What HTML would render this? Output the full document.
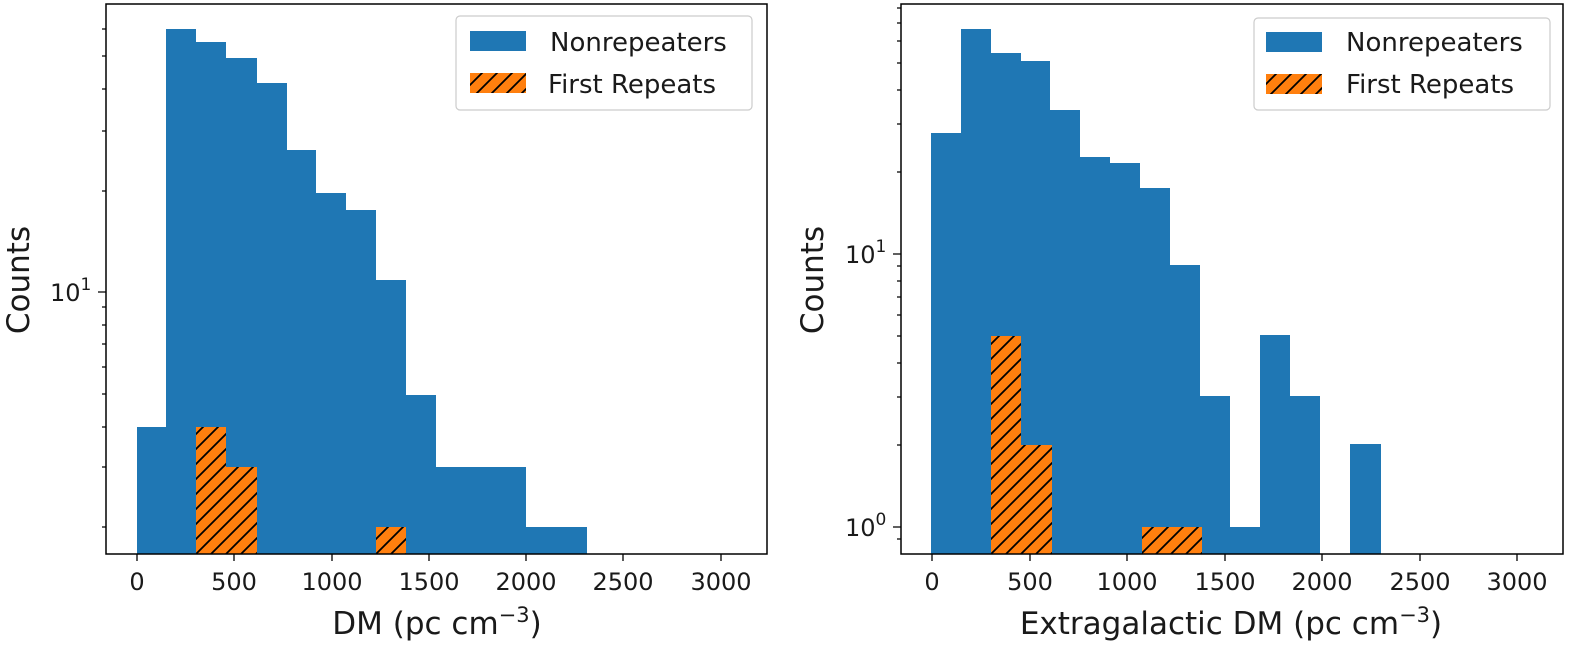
<!DOCTYPE html>
<html><head><meta charset="utf-8"><style>
html,body{margin:0;padding:0;background:#fff}
svg{display:block}
text{font-family:"DejaVu Sans","Liberation Sans",sans-serif;fill:#1a1a1a}
</style></head><body>
<svg width="1570" height="647" viewBox="0 0 1570 647" xmlns="http://www.w3.org/2000/svg">
<defs>
<pattern id="h" patternUnits="userSpaceOnUse" width="15" height="15">
<rect width="15" height="15" fill="#ff7f0e"/>
<path d="M-4,19 L19,-4 M-4,4 L4,-4 M11,19 L19,11" stroke="#000" stroke-width="1.8"/>
</pattern>
</defs>
<!-- LEFT -->
<path fill="#1f77b4" d="M137,554 V427 H166 V29 H196 V42 H226 V58 H257 V83 H287 V150 H316 V193 H346 V210 H376 V280 H406 V395 H436 V467 H526 V527 H587 V554 Z"/>
<rect x="196" y="427" width="30" height="127" fill="url(#h)"/>
<rect x="226" y="467" width="31" height="87" fill="url(#h)"/>
<rect x="376" y="527" width="30" height="27" fill="url(#h)"/>
<rect x="106" y="4" width="661" height="550" fill="none" stroke="#000" stroke-width="1.5"/>
<g stroke="#000" stroke-width="1.3">
<path d="M106,292 h-8 M106,527 h-4 M106,467 h-4 M106,427 h-4 M106,394 h-4 M106,367 h-4 M106,344 h-4 M106,325 h-4 M106,307 h-4 M106,191 h-4 M106,131 h-4 M106,89 h-4 M106,56 h-4 M106,29 h-4"/>
<path d="M137,554 v7 M234,554 v7 M332,554 v7 M429,554 v7 M526,554 v7 M623,554 v7 M721,554 v7"/>
</g>
<g font-size="24" text-anchor="middle">
<text x="137" y="590">0</text><text x="234" y="590">500</text><text x="332" y="590">1000</text><text x="429" y="590">1500</text><text x="526" y="590">2000</text><text x="623" y="590">2500</text><text x="721" y="590">3000</text>
</g>
<text x="50" y="301" font-size="24">10<tspan font-size="17" dy="-11">1</tspan></text>
<text x="437" y="634" font-size="31" text-anchor="middle">DM (pc cm<tspan font-size="21" dy="-12">−3</tspan><tspan dy="12">)</tspan></text>
<text transform="translate(29,280) rotate(-90)" font-size="31" text-anchor="middle">Counts</text>
<rect x="456" y="16" width="296" height="94" rx="4" fill="#fff" fill-opacity="0.8" stroke="#ccc" stroke-width="1.2"/>
<rect x="470" y="31" width="56" height="20" fill="#1f77b4"/>
<rect x="470" y="73" width="56" height="20" fill="url(#h)"/>
<text x="550" y="51" font-size="26">Nonrepeaters</text>
<text x="548" y="93" font-size="26">First Repeats</text>

<!-- RIGHT -->
<path fill="#1f77b4" d="M931,554 V133 H961 V29 H991 V53 H1021 V61 H1050 V110 H1080 V157 H1110 V163 H1140 V188 H1170 V265 H1200 V396 H1230 V527 H1260 V335 H1290 V396 H1320 V554 Z M1350,554 V444 H1381 V554 Z"/>
<rect x="991" y="336" width="30" height="218" fill="url(#h)"/>
<rect x="1021" y="445" width="31" height="109" fill="url(#h)"/>
<rect x="1142" y="527" width="60" height="27" fill="url(#h)"/>
<rect x="901" y="4" width="662" height="550" fill="none" stroke="#000" stroke-width="1.5"/>
<g stroke="#000" stroke-width="1.3">
<path d="M901,254 h-8 M901,527 h-8 M901,539 h-4 M901,445 h-4 M901,397 h-4 M901,363 h-4 M901,336 h-4 M901,315 h-4 M901,297 h-4 M901,281 h-4 M901,266 h-4 M901,172 h-4 M901,124 h-4 M901,90 h-4 M901,63 h-4 M901,41 h-4 M901,23 h-4 M901,8 h-4"/>
<path d="M932,554 v7 M1030,554 v7 M1127,554 v7 M1225,554 v7 M1322,554 v7 M1420,554 v7 M1517,554 v7"/>
</g>
<g font-size="24" text-anchor="middle">
<text x="932" y="590">0</text><text x="1030" y="590">500</text><text x="1127" y="590">1000</text><text x="1225" y="590">1500</text><text x="1322" y="590">2000</text><text x="1420" y="590">2500</text><text x="1517" y="590">3000</text>
</g>
<text x="845" y="263" font-size="24">10<tspan font-size="17" dy="-11">1</tspan></text>
<text x="845" y="536" font-size="24">10<tspan font-size="17" dy="-11">0</tspan></text>
<text x="1231" y="634" font-size="31" text-anchor="middle">Extragalactic DM (pc cm<tspan font-size="21" dy="-12">−3</tspan><tspan dy="12">)</tspan></text>
<text transform="translate(823,280) rotate(-90)" font-size="31" text-anchor="middle">Counts</text>
<rect x="1254" y="18" width="296" height="92" rx="4" fill="#fff" fill-opacity="0.8" stroke="#ccc" stroke-width="1.2"/>
<rect x="1266" y="32" width="56" height="20" fill="#1f77b4"/>
<rect x="1266" y="74" width="56" height="20" fill="url(#h)"/>
<text x="1346" y="51" font-size="26">Nonrepeaters</text>
<text x="1346" y="93" font-size="26">First Repeats</text>
</svg>
</body></html>
